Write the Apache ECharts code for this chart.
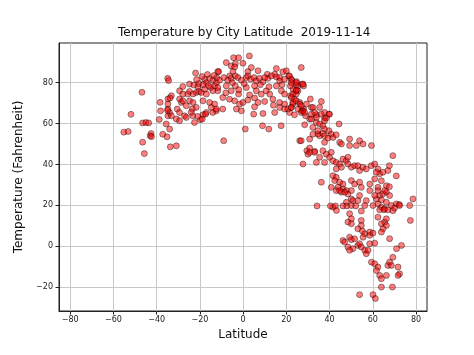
<!DOCTYPE html>
<html>
<head>
<meta charset="utf-8">
<script src="https://cdn.jsdelivr.net/npm/echarts@6/dist/echarts.min.js"></script>
<style>
html,body{margin:0;padding:0;background:#fff;}
#chart{width:474px;height:355px;}
</style>
</head>
<body>
<div id="chart"></div>
<script>
// [latitude, max temperature (F)]
const southernCities = [
[-46.8,75.3],[-38.4,70.4],[-51.9,64.5],[-38.8,62.0],[-46.5,60.3],[-45.0,60.5],[-43.7,60.3],[-55.2,55.8],[-53.2,56.1],[-42.6,55.1],[-43.0,54.0],[-42.4,53.6],[-46.5,50.9],[-45.7,45.3],
[-34.9,82.1],[-34.5,81.0],[-22.0,84.7],[-27.9,78.1],[-24.8,79.3],[-22.8,78.8],[-20.9,78.1],[-20.5,79.6],[-17.8,81.7],[-17.0,80.0],[-15.5,82.0],[-14.0,81.2],[-12.4,80.0],[-11.7,85.4],[-12.2,82.5],[-15.0,77.6],[-13.2,78.4],[-14.0,76.0],[-11.7,76.0],
[-29.4,76.0],[-27.9,74.4],[-25.6,74.4],[-24.8,75.7],[-23.2,74.4],[-21.7,75.2],[-20.5,75.7],[-19.4,75.2],[-17.8,76.8],[-17.0,74.4],
[-33.2,73.6],[-34.8,72.0],[-34.8,69.5],[-29.4,72.0],[-28.6,70.3],[-27.9,71.1],[-24.8,71.1],[-26.3,68.7],[-23.2,70.3],[-21.7,67.9],[-18.6,71.1],[-15.5,70.3],[-14.7,67.9],[-13.2,69.5],[-14.0,65.4],[-17.0,65.4],
[-34.8,67.1],[-34.0,65.4],[-34.8,63.8],[-33.2,63.8],[-38.2,66.2],[-30.5,67.1],[-29.4,65.4],[-27.1,63.8],[-30.9,62.2],[-23.5,67.1],[-23.3,63.8],[-18.6,64.3],[-12.4,66.2],
[-34.0,57.3],[-35.6,59.8],[-29.4,61.4],[-26.3,63.0],[-22.5,60.5],[-19.8,61.9],[-37.2,54.8],[-35.2,53.5],[-33.7,48.6],[-30.9,49.1],
[-19.0,83.0],[-16.5,84.0],[-13.5,83.5],[-21.5,81.5],[-18.5,79.0],[-16.0,78.5],[-35.0,66.5],[-33.8,72.5],[-24.0,65.5],[-21.0,63.5],[-17.4,64.6],[-18.9,62.2]
];
const tropicalCities = [
[-4.4,92.2],[-2.1,92.2],[2.9,93.1],[-7.8,89.8],[-5.5,88.2],[-3.6,89.3],[-0.1,89.5],[-11.3,85.4],[-6.2,83.3],[-3.9,87.7],[-4.7,85.4],[2.2,85.4],[3.8,87.4],[6.9,85.8],[11.2,84.1],[15.4,86.9],[18.4,85.3],[21.1,83.3],[14.6,84.1],[16.9,82.5],[20.0,85.8],
[-10.9,81.2],[-8.9,82.5],[-7.1,81.2],[-5.5,82.1],[-3.6,83.3],[-2.4,82.5],[-0.8,81.2],[1.5,82.5],[2.2,83.3],[3.5,81.7],[5.0,82.5],[6.1,80.9],[7.6,82.1],[9.2,80.5],[11.5,82.1],[13.1,83.3],[15.4,82.8],[16.9,80.9],[19.2,81.7],[21.5,83.3],[22.6,81.2],[24.7,80.5],[27.3,79.3],
[-11.7,77.6],[-7.8,78.4],[-5.5,76.0],[-3.6,78.4],[-2.1,74.4],[1.5,77.6],[5.3,78.4],[6.1,76.0],[8.4,74.4],[10.7,76.0],[12.3,74.4],[15.4,78.4],[17.7,76.0],[19.2,74.4],[23.1,76.8],[25.4,78.4],
[-9.4,72.7],[-6.3,71.9],[-3.9,71.1],[-1.6,69.5],[-0.1,70.3],[2.2,71.5],[5.3,72.5],[6.9,70.3],[10.0,70.8],[13.8,71.9],[16.9,70.3],[19.2,69.5],[22.0,73.6],[23.8,71.9],[26.2,70.3],
[-12.4,67.1],[-9.4,67.1],[-3.1,67.1],[-0.8,66.2],[5.3,68.2],[9.2,64.9],[14.6,65.4],[16.9,67.9],[19.2,67.1],[21.5,65.4],[23.8,64.3],[27.2,66.2],
[-9.0,51.6],[1.0,57.3],[4.9,64.6],[9.0,58.9],[11.9,57.3],[17.6,58.9],[20.7,67.1],[22.3,67.9],[23.0,69.5],[24.6,76.0],[26.9,87.4],
[-5.0,80.0],[0.5,79.5],[8.0,79.0],[12.0,78.0],[18.0,79.0],[-8.0,75.0],[3.0,74.0],[14.0,69.0],[-2.0,76.5],[10.0,82.5]
];
const northernCities = [
[28.0,67.1],[28.9,63.8],[30.8,62.2],[29.3,69.5],[31.6,67.9],[26.2,51.6],[29.5,46.7],[30.8,48.0],[33.1,46.4],[32.3,58.1],[33.9,60.5],[34.6,54.9],
[22.3,81.7],[21.9,78.4],[24.6,78.9],[28.0,78.4],[25.4,76.0],[24.6,74.4],[23.0,74.4],[22.3,72.7],[23.0,70.3],[22.3,67.9],[31.1,72.0],[24.6,71.1],[26.2,69.5],[25.4,67.1],[27.7,66.2],[26.9,65.4],[28.5,65.4],[32.3,67.9],[36.2,70.8],[35.4,67.9],[31.6,64.6],[33.9,64.3],[36.2,64.6],[37.7,65.4],[39.7,64.6],[37.7,62.7],
[22.3,80.0],[24.6,80.0],[27.7,79.3],[24.6,76.3],[26.9,68.7],[33.1,65.4],[33.9,63.0],[38.5,62.7],[40.0,64.6],[37.7,61.4],[28.5,59.4],[31.6,62.2],[35.4,59.8],[36.9,58.9],[37.7,57.3],[44.4,59.8],
[26.9,51.6],[30.8,52.4],[32.3,54.8],[34.6,56.5],[35.4,54.0],[36.9,55.1],[37.7,54.0],[39.7,56.5],[40.8,54.8],[39.3,52.9],[37.7,50.8],[41.6,53.2],[43.1,54.5],[44.7,50.8],[45.5,50.0],
[49.3,52.4],[53.9,51.6],[55.5,50.0],[59.4,49.2],[49.3,49.2],[52.4,49.2],
[30.0,45.0],[30.8,45.9],[33.1,45.9],[35.4,43.5],[33.9,41.0],[27.7,40.2],[36.9,46.7],[38.5,45.0],[40.8,45.9],[40.0,43.5],[37.7,41.0],[41.6,41.8],[43.1,41.0],[46.2,42.6],[47.7,41.8],[48.5,43.5],[44.7,40.2],[43.1,37.8],[45.5,38.6],
[48.5,40.2],[50.1,38.6],[51.6,39.4],[53.1,39.4],[53.9,37.0],[55.4,38.6],[57.0,37.8],[59.3,39.4],[60.9,40.2],[62.4,37.8],[63.2,35.4],[64.7,36.2],[67.0,37.0],[67.7,39.4],[69.3,44.3],[70.9,34.4],[60.9,32.9],[61.7,36.2],[64.0,32.0],[66.3,29.6],[62.4,28.8],[67.7,29.1],
[41.6,34.5],[43.1,33.7],[42.4,32.1],[44.7,31.3],[46.2,30.4],[43.9,28.8],[46.2,28.0],[47.8,27.2],[45.5,26.4],[48.5,25.5],[40.8,28.8],[43.1,27.2],[36.2,31.3],
[50.1,32.1],[51.6,30.4],[53.9,31.3],[54.7,28.8],[53.9,24.8],[58.6,30.4],[58.6,27.2],[63.2,24.8],[66.3,26.4],[67.8,24.8],[78.6,23.1],[70.9,20.7],[72.3,20.4],
[50.1,23.1],[61.7,23.1],[62.4,20.7],[64.0,19.1],[65.5,18.3],[41.6,19.1],
[44.7,27.2],[47.0,26.4],[50.1,27.2],[60.9,24.8],[62.4,27.2],[64.7,25.6],[65.5,27.2],
[50.8,22.3],[47.8,21.5],[53.1,22.3],[57.0,22.3],[64.0,22.7],[66.3,21.5],
[34.2,19.7],[40.4,19.7],[42.7,19.7],[43.2,17.5],[46.2,19.7],[48.0,19.7],[50.1,19.9],[52.1,19.7],[54.7,17.2],[56.3,19.9],[60.1,19.9],[63.2,17.8],[65.2,17.8],[67.0,17.8],[68.6,19.9],[69.3,17.4],[70.1,18.7],[72.4,19.9],[77.1,19.9],[77.4,12.6],
[49.3,15.9],[50.1,13.4],[54.7,12.6],[48.5,11.8],[50.1,11.0],[54.7,10.1],[53.1,8.5],
[62.4,14.2],[64.0,11.0],[65.5,11.8],[66.3,10.1],[64.7,8.5],[64.0,6.9],[67.8,3.7],[66.3,13.4],
[55.2,7.4],[56.3,6.1],[58.6,6.9],[58.6,5.3],[60.1,6.4],[55.5,4.4],[58.6,1.2],[60.9,1.5],
[46.2,2.8],[47.0,2.0],[49.3,4.4],[50.1,3.2],[51.6,3.6],[53.1,0.4],[53.9,1.2],[54.7,-0.4],[48.5,-0.4],[50.8,-1.2],[49.3,-2.0],[56.3,-2.0],[57.0,-3.7],[57.8,-2.0],
[59.4,-7.8],[60.9,-8.6],[62.4,-10.2],[61.7,-11.9],[63.2,-14.3],[64.0,-15.9],[66.3,-14.3],[67.0,-9.4],[67.8,-7.8],[68.6,-9.4],[69.3,-5.4],[71.7,-10.2],[72.4,-13.5],[71.7,-14.3],[73.3,0.4],[71.0,-1.2],
[69.1,-20.0],[64.0,-20.0],[53.9,-23.7],[60.1,-23.7],[61.2,-25.6]
];
const xTickValues = [-80, -60, -40, -20, 0, 20, 40, 60, 80];
const yTickValues = [-20, 0, 20, 40, 60, 80];
const chartTitle = 'Temperature by City Latitude  2019-11-14';

const FONT = 'DejaVu Sans';
const fmt = v => (v < 0 ? '\u2212' + Math.abs(v) : String(v));
const allCities = southernCities.concat(tropicalCities, northernCities);

const chart = echarts.init(document.getElementById('chart'), null, {renderer: 'canvas'});
chart.setOption({
  animation: false,
  backgroundColor: '#fff',
  title: {
    text: chartTitle,
    left: 118, top: 27, padding: 0,
    textStyle: {fontFamily: FONT, fontSize: 12, fontWeight: 'normal', color: '#111'}
  },
  grid: {left: 59, right: 47, top: 43, bottom: 44, show: true, borderColor: '#222', borderWidth: 1},
  xAxis: {
    type: 'value', min: -85.2, max: 85.1,
    name: 'Latitude', nameLocation: 'middle', nameGap: 15,
    nameTextStyle: {fontFamily: FONT, fontSize: 12, color: '#111'},
    axisLine: {show: true, onZero: false, lineStyle: {color: '#222', width: 1}},
    axisTick: {show: true, length: 3.5, customValues: xTickValues, lineStyle: {color: '#222'}},
    axisLabel: {customValues: xTickValues, fontFamily: FONT, fontSize: 8, color: '#222', margin: 5, formatter: fmt},
    splitLine: {show: true, lineStyle: {color: '#c8c8c8', width: 1}}
  },
  yAxis: {
    type: 'value', min: -31.7, max: 99.4,
    name: 'Temperature (Fahrenheit)', nameLocation: 'middle', nameGap: 25,
    nameTextStyle: {fontFamily: FONT, fontSize: 12, color: '#111'},
    axisLine: {show: true, onZero: false, lineStyle: {color: '#222', width: 1}},
    axisTick: {show: true, length: 3.5, customValues: yTickValues, lineStyle: {color: '#222'}},
    axisLabel: {customValues: yTickValues, fontFamily: FONT, fontSize: 8, color: '#222', margin: 6, formatter: fmt},
    splitLine: {show: true, lineStyle: {color: '#c8c8c8', width: 1}}
  },
  series: [{
    type: 'scatter',
    data: allCities,
    symbol: 'circle',
    symbolSize: 6,
    itemStyle: {color: '#ff0000', borderColor: '#000', borderWidth: 0.8, opacity: 0.5}
  }]
});
</script>
</body>
</html>
